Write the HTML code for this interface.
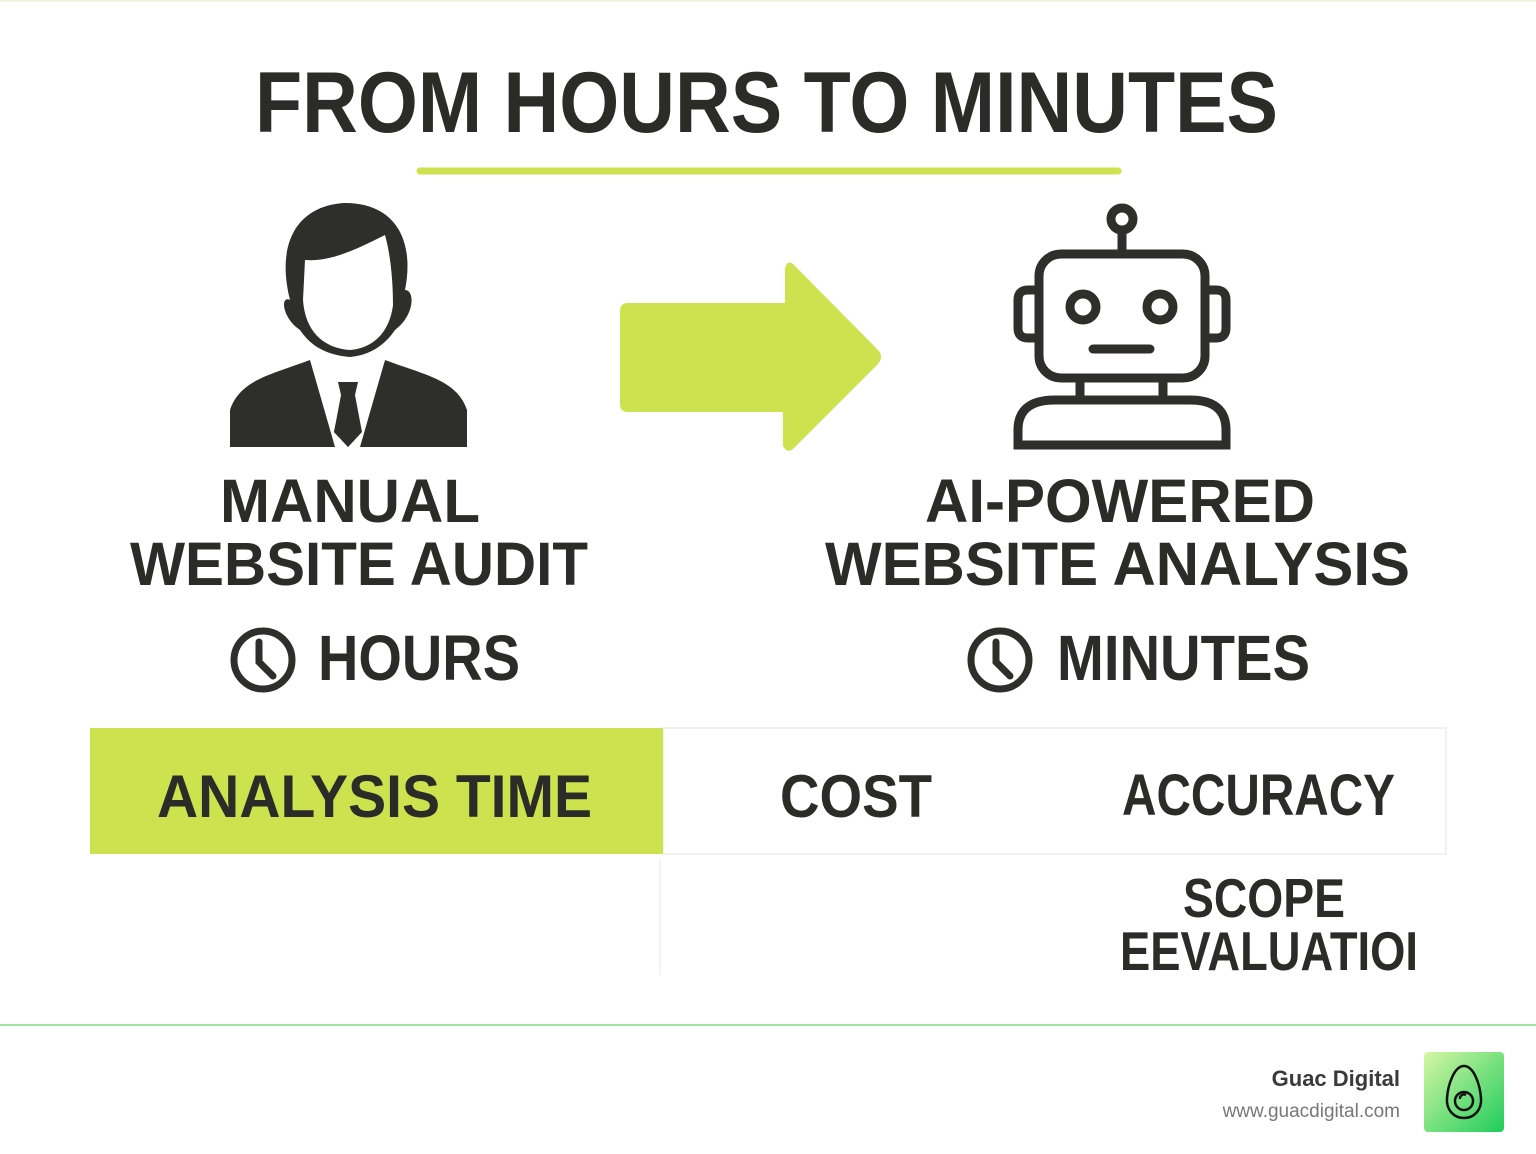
<!DOCTYPE html>
<html><head><meta charset="utf-8"><style>
html,body{margin:0;padding:0;background:#fff;}
svg{display:block}
text{font-family:"Liberation Sans",sans-serif;font-weight:bold;fill:#2b2b27}
</style></head><body>
<svg width="1536" height="1154" viewBox="0 0 1536 1154" xmlns="http://www.w3.org/2000/svg">
<defs>
<linearGradient id="g" x1="0" y1="0" x2="1" y2="1"><stop offset="0" stop-color="#d6f7a4"/><stop offset="1" stop-color="#1fcc5c"/></linearGradient>
</defs>
<rect x="0" y="0" width="1536" height="2" fill="#eef3e0"/>
<text x="255" y="132" font-size="86" textLength="1023" lengthAdjust="spacingAndGlyphs">FROM HOURS TO MINUTES</text>
<line x1="420" y1="171" x2="1118" y2="171" stroke="#cde24f" stroke-width="7" stroke-linecap="round"/>

<!-- person -->
<g fill="#2e2e2a">
<path d="M290 300 C275 240 300 205 345 203 C395 203 415 240 405 290 C415 290 415 315 395 330 C385 345 370 355 350 357 C325 355 310 345 300 330 C282 318 280 295 290 300 Z"/>
<path d="M230 447 L230 410 C240 380 270 375 310 360 L335 447 Z"/>
<path d="M467 447 L467 410 C457 380 425 375 385 360 L360 447 Z"/>
<path d="M338 382 L358 382 L355 395 L362 432 L348 447 L334 432 L341 395 Z"/>
</g>
<path d="M305 260 C330 262 355 250 385 235 C392 260 393 290 393 305 C390 330 375 348 350 350 C322 348 305 330 303 300 Z" fill="#fff"/>
<path d="M315 360 C325 370 340 372 350 372 C362 372 375 368 385 360 L360 440 L340 440 Z" fill="#fff"/>
<path d="M338 382 L358 382 L355 395 L362 432 L348 447 L334 432 L341 395 Z" fill="#2e2e2a"/>

<!-- arrow -->
<path d="M628 303 L785 303 L785 268 Q788 258 795 266 L878 350 Q884 357 878 364 L795 447 Q788 455 783 446 L783 412 L628 412 Q620 412 620 404 L620 311 Q620 303 628 303 Z" fill="#cde24f"/>

<!-- robot -->
<g fill="none" stroke="#2e2e2a" stroke-width="9">
<circle cx="1122" cy="219" r="11"/>
<line x1="1122" y1="230" x2="1122" y2="252"/>
<rect x="1039" y="254" width="166" height="124" rx="22"/>
<path d="M1037 290 L1028 290 Q1018 290 1018 300 L1018 328 Q1018 338 1028 338 L1037 338"/>
<path d="M1207 290 L1216 290 Q1226 290 1226 300 L1226 328 Q1226 338 1216 338 L1207 338"/>
<circle cx="1083" cy="307" r="13"/>
<circle cx="1160" cy="307" r="13"/>
<line x1="1080" y1="382" x2="1080" y2="400"/>
<line x1="1163" y1="382" x2="1163" y2="400"/>
<path d="M1018 445 L1018 430 Q1018 400 1055 400 L1190 400 Q1226 400 1226 430 L1226 445 Z"/>
</g>
<line x1="1093" y1="349" x2="1150" y2="349" stroke="#2e2e2a" stroke-width="9" stroke-linecap="round"/>

<text x="220" y="522" font-size="61" textLength="260" lengthAdjust="spacingAndGlyphs">MANUAL</text>
<text x="130" y="585" font-size="61" textLength="458" lengthAdjust="spacingAndGlyphs">WEBSITE AUDIT</text>
<text x="925" y="522" font-size="61" textLength="390" lengthAdjust="spacingAndGlyphs">AI-POWERED</text>
<text x="825" y="585" font-size="61" textLength="585" lengthAdjust="spacingAndGlyphs">WEBSITE ANALYSIS</text>

<g fill="none" stroke="#2e2e2a" stroke-width="7" stroke-linecap="round">
<circle cx="263" cy="660" r="29"/><path d="M259 642 L259 662 L273 676"/>
<circle cx="1000" cy="660" r="29"/><path d="M996 642 L996 662 L1010 676"/>
</g>
<text x="318" y="680" font-size="64" textLength="202" lengthAdjust="spacingAndGlyphs">HOURS</text>
<text x="1057" y="680" font-size="64" textLength="253" lengthAdjust="spacingAndGlyphs">MINUTES</text>

<rect x="663" y="728" width="783" height="126" fill="none" stroke="#f2f2ec" stroke-width="2"/>
<line x1="660" y1="860" x2="660" y2="975" stroke="#f4f4ee" stroke-width="2"/>
<rect x="90" y="728" width="573" height="126" fill="#cde24f"/>
<text x="157" y="817" font-size="60" textLength="435" lengthAdjust="spacingAndGlyphs">ANALYSIS TIME</text>
<text x="780" y="817" font-size="60" textLength="152" lengthAdjust="spacingAndGlyphs">COST</text>
<text x="1122" y="815" font-size="58" textLength="273" lengthAdjust="spacingAndGlyphs">ACCURACY</text>
<text x="1183" y="917" font-size="55" textLength="162" lengthAdjust="spacingAndGlyphs">SCOPE</text>
<text x="1120" y="970" font-size="55" textLength="298" lengthAdjust="spacingAndGlyphs">EEVALUATIOI</text>

<rect x="0" y="1024" width="1536" height="2" fill="#9fe89f"/>
<text x="1400" y="1086" font-size="22" text-anchor="end" fill="#3a3a3a" style="fill:#3a3a3a">Guac Digital</text>
<text x="1400" y="1117" font-size="19" text-anchor="end" style="font-weight:normal;fill:#777">www.guacdigital.com</text>
<rect x="1424" y="1052" width="80" height="80" rx="4" fill="url(#g)"/>
<g fill="none" stroke="#111" stroke-width="2.5">
<path d="M1464 1066 C1454 1066 1448 1085 1447 1098 C1446 1110 1454 1118 1464 1118 C1474 1118 1482 1110 1481 1098 C1480 1085 1474 1066 1464 1066 Z"/>
<circle cx="1464" cy="1101" r="9"/>
<path d="M1460 1099 A4 4 0 0 1 1466 1095"/>
</g>
</svg>
</body></html>
